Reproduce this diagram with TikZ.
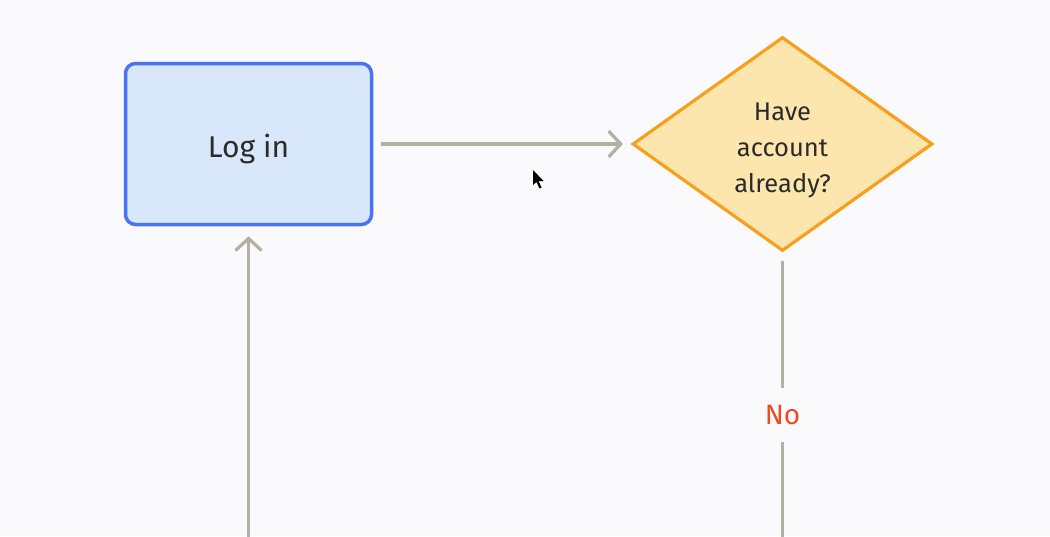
\documentclass[tikz,border=0pt]{standalone}
\usepackage{fontspec}
\setmainfont{Fira Sans}
\usetikzlibrary{shapes.geometric,arrows.meta}
\definecolor{bg}{HTML}{FAFAFD}
\definecolor{boxfill}{HTML}{D8E7FA}
\definecolor{boxline}{HTML}{4A72F5}
\definecolor{dfill}{HTML}{FDE6AE}
\definecolor{dline}{HTML}{F8A01E}
\definecolor{conn}{HTML}{B2B2A4}
\definecolor{txt}{HTML}{2B2B2B}
\definecolor{nocol}{HTML}{F04A24}
\newcommand{\lowerby}[2]{\raisebox{0pt}[\dimexpr\height+#1\relax][\depth]{#2}}
\tikzset{
  procbox/.style={rectangle, rounded corners=10pt, draw=boxline, fill=boxfill, line width=3.5pt,
    minimum width=246pt, minimum height=161pt, inner sep=0pt, text=txt,
    font=\fontsize{30}{36}\selectfont},
  decbox/.style={diamond, draw=dline, fill=dfill, line width=3.2pt, shape aspect=1.396,
    minimum width=300pt, minimum height=214pt, inner sep=0pt, text=txt,
    font=\fontsize{25.5}{36}\selectfont},
  conn line/.style={draw=conn, line width=3.3pt},
  arr/.style={conn line, -{Straight Barb[length=12pt,width=26pt,line width=3.3pt]}},
  lbl/.style={text=nocol, font=\fontsize{28}{30}\selectfont, minimum height=54pt, inner sep=0pt}
}
\begin{document}
\begin{tikzpicture}[x=1pt,y=-1pt]
\fill[bg] (0,0) rectangle (1050,536);
\useasboundingbox (0,0) rectangle (1050,536);
\node[procbox] (login) at (248.5,144) {\lowerby{9pt}{Log in}};
\node[decbox] (q) at (782.5,144) {\lowerby{10pt}{\setlength{\tabcolsep}{0pt}\begin{tabular}{c}Have\\account\\already?\end{tabular}}};
\node[lbl] (no) at (782.5,415) {No};
\coordinate (bl) at (248.5,540);
\coordinate (br) at (782.5,540);
\draw[arr, shorten <=8pt, shorten >=8pt] (login) -- (q);
\draw[arr, shorten >=10pt] (bl) -- (login);
\draw[conn line, shorten <=8pt] (q) -- (no);
\draw[conn line] (no) -- (br);
\fill[black] (533,170) -- (533,185) -- (536.5,182) -- (539.5,188.5) -- (541.5,187.5) -- (538.5,181) -- (543.5,181) -- cycle;
\end{tikzpicture}
\end{document}
